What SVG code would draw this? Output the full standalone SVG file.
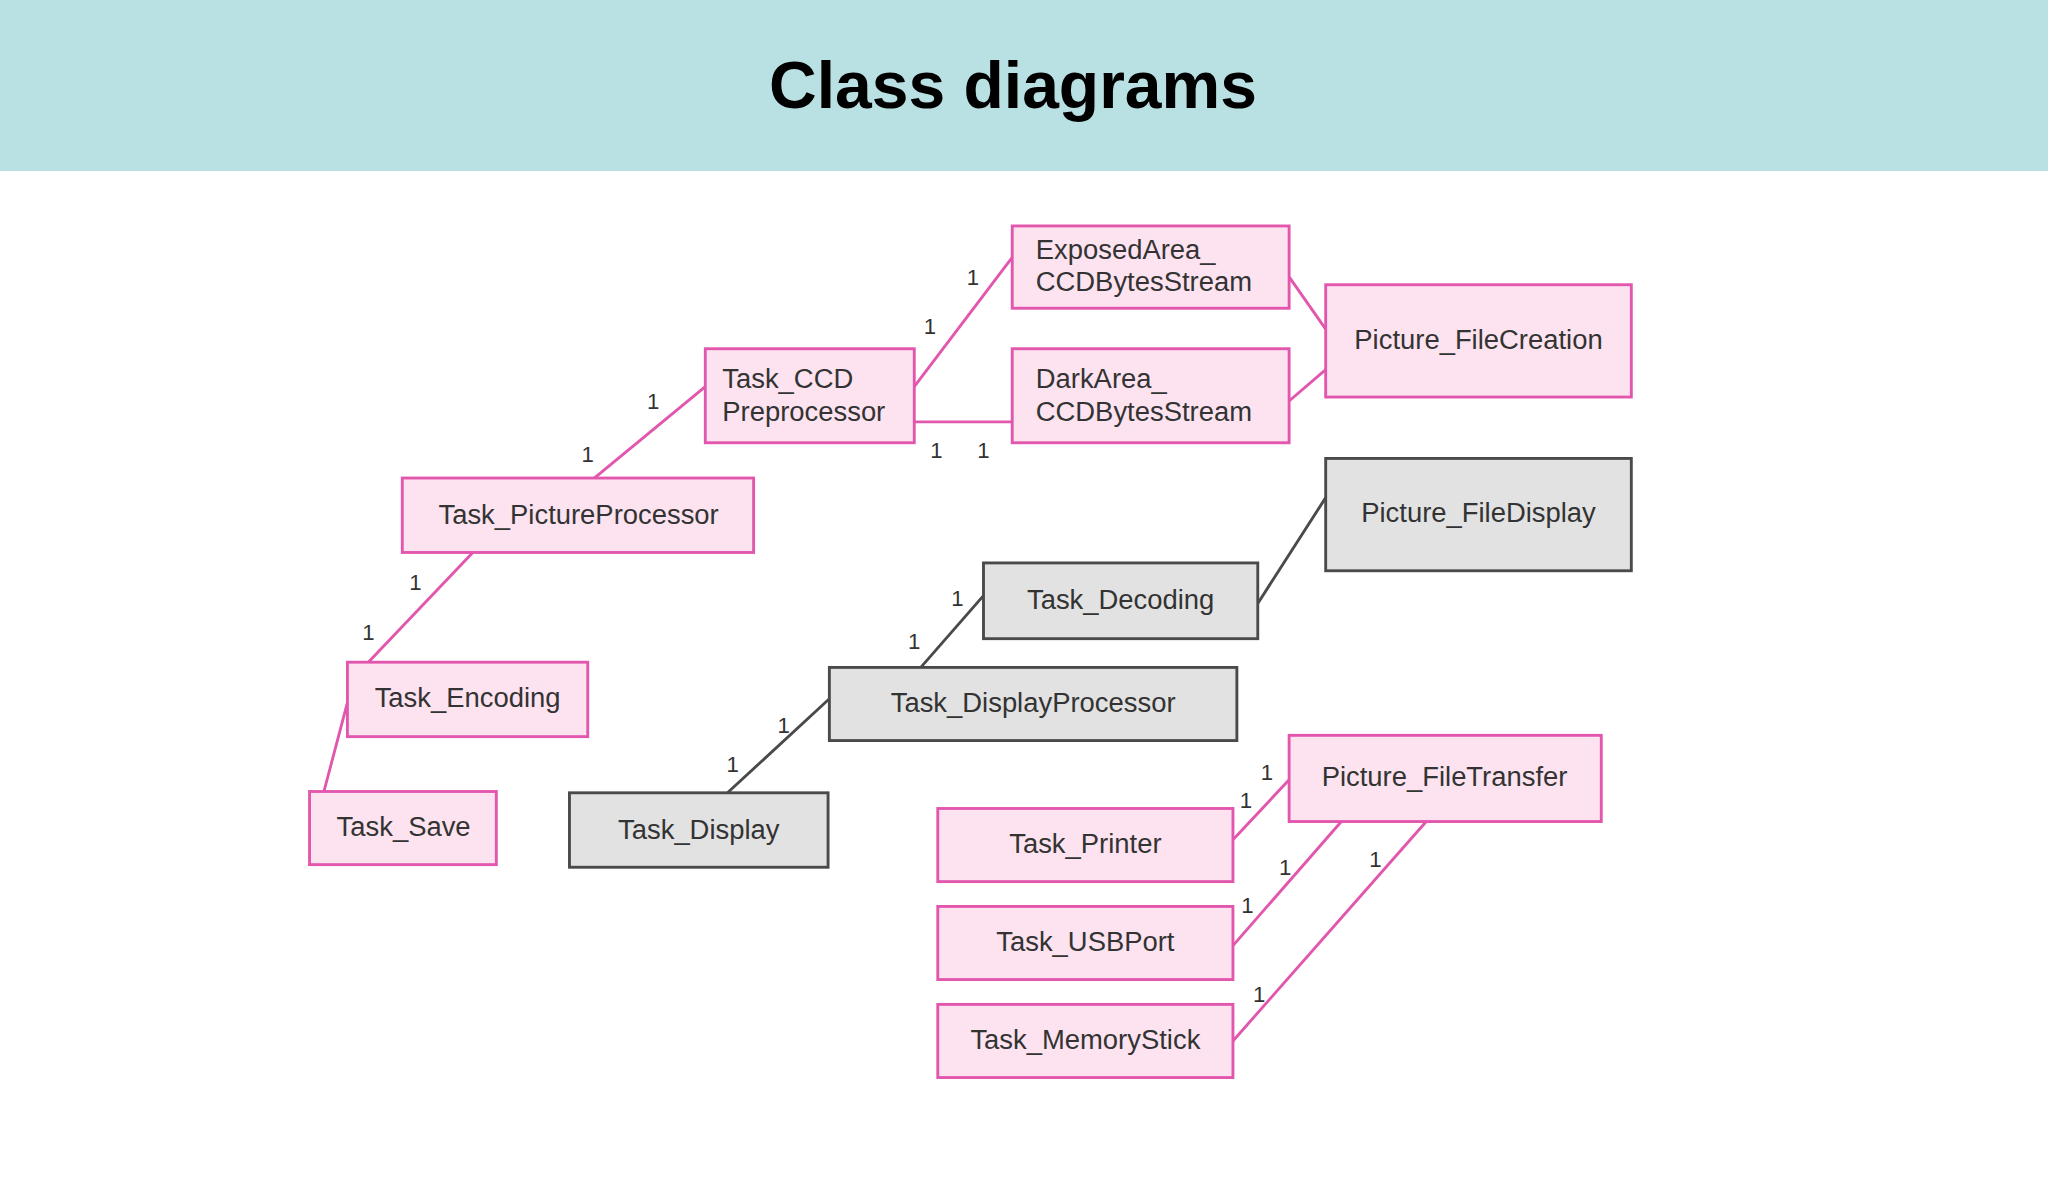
<svg xmlns="http://www.w3.org/2000/svg" width="2048" height="1182" viewBox="0 0 2048 1182">
<style>
.p{fill:#fde3f0;stroke:#e256ad;stroke-width:2.2}
.g{fill:#e2e2e2;stroke:#4a4a4a;stroke-width:2.2}
.t{font-family:"Liberation Sans",Arial,sans-serif;font-size:21px;fill:#333}
.m{font-family:"Liberation Sans",Arial,sans-serif;font-size:17px;fill:#333}
.lp{stroke:#e256ad;stroke-width:2.2;fill:none}
.lg{stroke:#4a4a4a;stroke-width:2.2;fill:none}
</style>
<rect width="2048" height="1182" fill="#fff"/>
<rect width="2048" height="171" fill="#b9e0e3"/>
<text x="1013" y="108" text-anchor="middle" font-family="Liberation Sans,Arial,sans-serif" font-weight="bold" font-size="66" fill="#000">Class diagrams</text>
<g transform="scale(1.3061)">
<g id="connectors">
<path class="lp" d="M700,296L775,197M700,323H775M987,212L1015,252M987,307L1015,283M455,366L540,296M362,423L282,507M266,538L248,606M944,643L987,597M944,724L1027,629M944,797L1092,629"/>
<path class="lg" d="M963,462L1015,381M705,511L753,456M557,607L635,535"/>
<g class="m">
<text x="745" y="218" text-anchor="middle">1</text><text x="712" y="256" text-anchor="middle">1</text>
<text x="717" y="351" text-anchor="middle">1</text><text x="753" y="351" text-anchor="middle">1</text>
<text x="500" y="313" text-anchor="middle">1</text><text x="450" y="354" text-anchor="middle">1</text>
<text x="318" y="452" text-anchor="middle">1</text><text x="282" y="490" text-anchor="middle">1</text>
<text x="733" y="464" text-anchor="middle">1</text><text x="700" y="497" text-anchor="middle">1</text>
<text x="600" y="561" text-anchor="middle">1</text><text x="561" y="591" text-anchor="middle">1</text>
<text x="970" y="597" text-anchor="middle">1</text><text x="954" y="619" text-anchor="middle">1</text>
<text x="984" y="670" text-anchor="middle">1</text><text x="955" y="699" text-anchor="middle">1</text>
<text x="1053" y="664" text-anchor="middle">1</text><text x="964" y="767" text-anchor="middle">1</text>
</g>
</g>
<g id="exposed"><rect class="p" x="775" y="173" width="212" height="63"/><text class="t" x="793" y="198">ExposedArea_</text><text class="t" x="793" y="223">CCDBytesStream</text></g>
<g id="filecreation"><rect class="p" x="1015" y="218" width="234" height="86"/><text class="t" x="1132" y="267" text-anchor="middle">Picture_FileCreation</text></g>
<g id="ccd"><rect class="p" x="540" y="267" width="160" height="72"/><text class="t" x="553" y="297">Task_CCD</text><text class="t" x="553" y="322">Preprocessor</text></g>
<g id="dark"><rect class="p" x="775" y="267" width="212" height="72"/><text class="t" x="793" y="297">DarkArea_</text><text class="t" x="793" y="322">CCDBytesStream</text></g>
<g id="pictureprocessor"><rect class="p" x="308" y="366" width="269" height="57"/><text class="t" x="443" y="401" text-anchor="middle">Task_PictureProcessor</text></g>
<g id="filedisplay"><rect class="g" x="1015" y="351" width="234" height="86"/><text class="t" x="1132" y="400" text-anchor="middle">Picture_FileDisplay</text></g>
<g id="decoding"><rect class="g" x="753" y="431" width="210" height="58"/><text class="t" x="858" y="466" text-anchor="middle">Task_Decoding</text></g>
<g id="encoding"><rect class="p" x="266" y="507" width="184" height="57"/><text class="t" x="358" y="541" text-anchor="middle">Task_Encoding</text></g>
<g id="displayprocessor"><rect class="g" x="635" y="511" width="312" height="56"/><text class="t" x="791" y="545" text-anchor="middle">Task_DisplayProcessor</text></g>
<g id="save"><rect class="p" x="237" y="606" width="143" height="56"/><text class="t" x="309" y="640" text-anchor="middle">Task_Save</text></g>
<g id="display"><rect class="g" x="436" y="607" width="198" height="57"/><text class="t" x="535" y="642" text-anchor="middle">Task_Display</text></g>
<g id="filetransfer"><rect class="p" x="987" y="563" width="239" height="66"/><text class="t" x="1106" y="602" text-anchor="middle">Picture_FileTransfer</text></g>
<g id="printer"><rect class="p" x="718" y="619" width="226" height="56"/><text class="t" x="831" y="653" text-anchor="middle">Task_Printer</text></g>
<g id="usbport"><rect class="p" x="718" y="694" width="226" height="56"/><text class="t" x="831" y="728" text-anchor="middle">Task_USBPort</text></g>
<g id="memorystick"><rect class="p" x="718" y="769" width="226" height="56"/><text class="t" x="831" y="803" text-anchor="middle">Task_MemoryStick</text></g>
</g>
</svg>
